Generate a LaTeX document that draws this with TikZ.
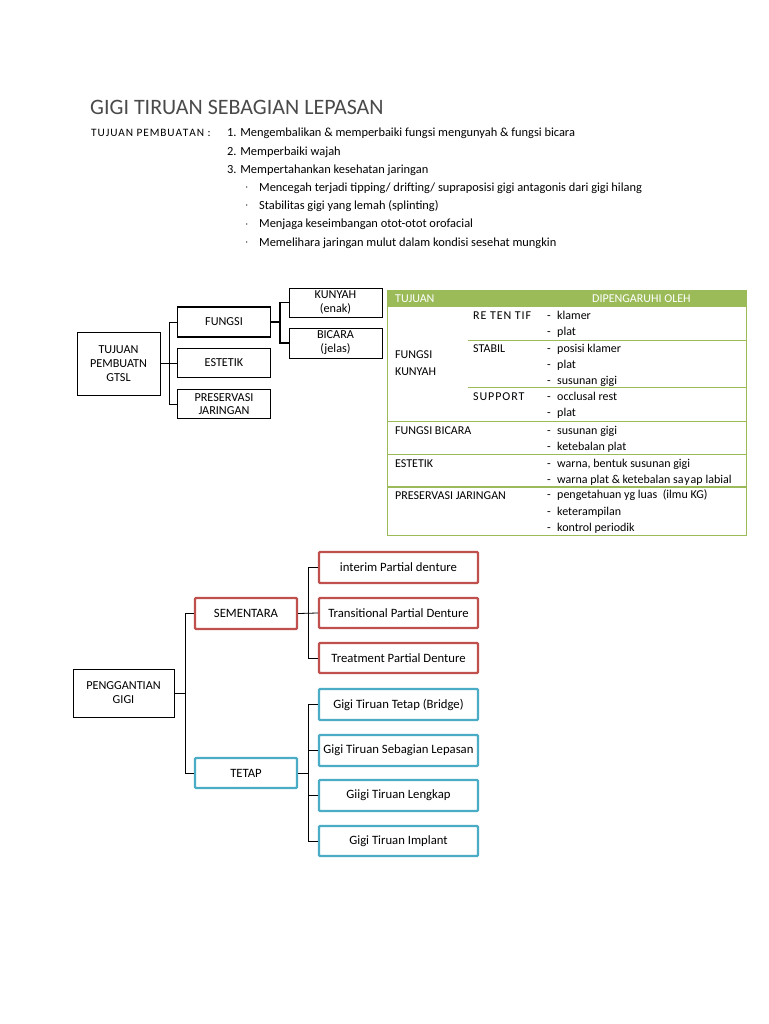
\documentclass[tikz,border=0pt]{standalone}
\usepackage{fontspec}
\setmainfont{Carlito}
\definecolor{myred}{HTML}{C0504D}
\definecolor{myblue}{HTML}{4BACC6}
\definecolor{mygreen}{HTML}{9BBB59}
\definecolor{titlegray}{HTML}{4A4A4A}
\newcommand{\fs}[1]{\fontsize{#1}{#1}\selectfont}
\newcommand{\fsb}[2]{\fontsize{#1}{#2}\selectfont}
\newcommand{\lsp}{\hspace{0.9pt}}
\begin{document}
\begin{tikzpicture}[x=1pt,y=-1pt,
  txt/.style={anchor=base west,inner sep=0pt,font=\fs{12.4}},
  bbox/.style={draw=black,line width=0.8pt,inner sep=1pt,align=center,font=\fsb{12.2}{14}},
  rbox/.style={draw=myred,line width=2.2pt,inner sep=1pt,align=center,font=\fs{12.7},rounded corners=1pt},
  cbox/.style={draw=myblue,line width=2.2pt,inner sep=1pt,align=center,font=\fs{12.7},rounded corners=1pt},
  conn/.style={draw=black,line width=0.8pt},
  tline/.style={draw=mygreen,line width=0.8pt},
  ttxt/.style={anchor=base west,inner sep=0pt,font=\fs{12}}]
\useasboundingbox (0,0) rectangle (768,1024);
\fill[white] (0,0) rectangle (768,1024);

% Title and text
\node[anchor=base west,inner sep=0pt,font=\fs{22},text=titlegray] (title) at (90,115) {GIGI TIRUAN SEBAGIAN LEPASAN};
\node[txt,font=\fs{11.3}] (tp) at (91,137) {T\lsp U\lsp J\lsp U\lsp A\lsp N\lsp{} P\lsp E\lsp M\lsp B\lsp U\lsp A\lsp T\lsp A\lsp N\lsp{} :};
\node[txt] (i1) at (227,137) {1. Mengembalikan \& memperbaiki fungsi mengunyah \& fungsi bicara};
\node[txt] (i2) at (227,156) {2. Memperbaiki wajah};
\node[txt] (i3) at (227,174) {3. Mempertahankan kesehatan jaringan};
\foreach \yy/\tt [count=\k] in {192/{Mencegah terjadi tipping/ drifting/ supraposisi gigi antagonis dari gigi hilang},
  210/{Stabilitas gigi yang lemah (splinting)},
  228/{Menjaga keseimbangan otot-otot orofacial},
  246/{Memelihara jaringan mulut dalam kondisi sesehat mungkin}}{
  \node[txt] (bul\k) at (245,\yy-1) {$\cdot$};
  \node[txt] (sub\k) at (259,\yy) {\tt};
}

% Upper tree
\node[bbox,minimum width=83pt,minimum height=63pt] (tuj) at (118.5,363.5) {TUJUAN\\PEMBUATN\\GTSL};
\node[bbox,line width=1.4pt,minimum width=93pt,minimum height=30pt] (fungsi) at (224,322) {FUNGSI};
\node[bbox,minimum width=93pt,minimum height=29pt] (est) at (224,363) {ESTETIK};
\node[bbox,minimum width=93pt,minimum height=29pt,font=\fsb{12.2}{13}] (pres) at (224,404) {PRESERVASI\\JARINGAN};
\node[bbox,minimum width=93pt,minimum height=29pt] (kun) at (335.5,302.5) {KUNYAH\\(enak)};
\node[bbox,minimum width=93pt,minimum height=30pt] (bic) at (335.5,343) {BICARA\\(jelas)};
\coordinate (t1) at (169,0);
\coordinate (t2) at (280,0);
\draw[conn] (tuj.east) -- (tuj.east -| t1);
\draw[conn] (fungsi.west) -| (t1 |- pres.west) -- (pres.west);
\draw[conn] (est.west) -- (est.west -| t1);
\draw[conn,line width=1.4pt] (fungsi.east) -- (fungsi.east -| t2);
\draw[conn,line width=1.4pt] (kun.west) -| (t2 |- bic.west) -- (bic.west);

% Table
\fill[mygreen] (387,290) rectangle (746,307);
\draw[tline,line width=1pt] (387,290) rectangle (746,535);
\draw[tline] (468,340) -- (746,340);
\draw[tline] (468,387) -- (746,387);
\draw[tline] (387,421) -- (746,421);
\draw[tline] (387,454) -- (746,454);
\draw[tline,line width=1.6pt] (387,487) -- (746,487);
\node[ttxt,text=white] (h1) at (395,302.5) {TUJUAN};
\node[ttxt,text=white] (h2) at (592,302.5) {DIPENGARUHI OLEH};
\node[ttxt,anchor=west,align=left,font=\fsb{12}{17}] (fk) at (395,363.5) {FUNGSI\\KUNYAH};
\node[ttxt] (ret) at (473,319) {R\lsp E\lsp{} T\lsp E\lsp N\lsp{} T\lsp I\lsp F};
\node[ttxt] (sta) at (473,352) {STABIL};
\node[ttxt] (sup) at (473,400) {S\lsp U\lsp P\lsp P\lsp O\lsp R\lsp T};
\node[ttxt] (fb) at (395,434) {FUNGSI BICARA};
\node[ttxt] (es) at (395,467) {ESTETIK};
\node[ttxt] (pj) at (395,499) {PRESERVASI JARINGAN};
\foreach \yy/\tt [count=\k] in {319/klamer,335/plat,352/posisi klamer,368/plat,384/susunan gigi,400/occlusal rest,416/plat,
  434/susunan gigi,450/ketebalan plat,467/{warna, bentuk susunan gigi},483/{warna plat \& ketebalan sa\lsp y\lsp ap labial},
  498/{pengetahuan yg luas~ (ilmu KG)},515/keterampilan,531/kontrol periodik}{
  \node[ttxt] (d\k) at (547,\yy) {-};
  \node[ttxt] (v\k) at (557,\yy) {\tt};
}

% Lower tree
\node[bbox,minimum width=101pt,minimum height=48pt] (peng) at (123.5,693) {PENGGANTIAN\\GIGI};
\node[rbox,minimum width=102pt,minimum height=31pt] (sem) at (246,613.5) {SEMENTARA};
\node[cbox,minimum width=102pt,minimum height=30pt] (tet) at (246,773) {TETAP};
\node[rbox,minimum width=159pt,minimum height=31pt] (s1) at (398.5,567.5) {interim Partial denture};
\node[rbox,minimum width=159pt,minimum height=30pt] (s2) at (398.5,613) {Transitional Partial Denture};
\node[rbox,minimum width=159pt,minimum height=30pt] (s3) at (398.5,658) {Treatment Partial Denture};
\node[cbox,minimum width=159pt,minimum height=31pt] (c1) at (398.5,704.5) {Gigi Tiruan Tetap (Bridge)};
\node[cbox,minimum width=159pt,minimum height=31pt] (c2) at (398.5,750.5) {Gigi Tiruan Sebagian Lepasan};
\node[cbox,minimum width=159pt,minimum height=31pt] (c3) at (398.5,795.5) {Giigi Tiruan Lengkap};
\node[cbox,minimum width=159pt,minimum height=30pt] (c4) at (398.5,841) {Gigi Tiruan Implant};
\coordinate (t3) at (185,0);
\coordinate (t4) at (308,0);
\draw[conn] (peng.east) -- (peng.east -| t3);
\draw[conn] (sem.west) -| (t3 |- tet.west) -- (tet.west);
\draw[conn] (sem.east) -- (s2.west);
\draw[conn] (s1.west) -| (t4 |- s3.west) -- (s3.west);
\draw[conn] (tet.east) -- (tet.east -| t4);
\draw[conn] (c1.west) -| (t4 |- c4.west) -- (c4.west);
\draw[conn] (c2.west) -- (c2.west -| t4);
\draw[conn] (c3.west) -- (c3.west -| t4);
\end{tikzpicture}
\end{document}
